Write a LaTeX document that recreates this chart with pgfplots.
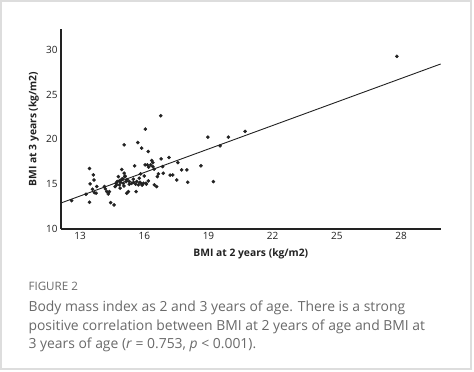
\documentclass[border=0pt]{standalone}
\usepackage{pgfplots}
\pgfplotsset{compat=1.18}
\usepackage{fontspec}
\setmainfont{Open Sans}
\definecolor{axgray}{HTML}{222222}
\definecolor{capgray}{HTML}{6A6A6A}
\definecolor{framegray}{HTML}{DDDDDD}
\begin{document}
\begin{tikzpicture}
\fill[white,use as bounding box] (0pt,0pt) rectangle (474pt,372pt);
\draw[framegray,line width=2.5pt] (1pt,3pt) -- (1pt,371pt) -- (471pt,371pt) -- (471pt,3pt) -- cycle;
\begin{axis}[
  at={(61pt,143pt)}, anchor=south west,
  scale only axis, width=379.7pt, height=200pt,
  xmin=12.11, xmax=29.85, ymin=10, ymax=32.3,
  axis lines=left, axis line style={-, line width=1.1pt, axgray},
  major tick length=0pt,
  xtick={13,16,19,22,25,28}, ytick={10,15,20,25,30},
  tick label style={font=\fontsize{10}{12}\selectfont, text=axgray},
  /pgf/number format/assume math mode=true,
  xlabel={BMI at 2 years (kg/m2)}, ylabel={BMI at 3 years (kg/m2)},
  label style={font=\bfseries\fontsize{10.3}{12}\selectfont, text=axgray},
  xlabel style={at={(axis description cs:0.5,-0.125)}, anchor=center},
  ylabel style={at={(axis description cs:-0.072,0.5)}, anchor=center},
  clip=false,
]
\addplot[only marks, mark=*, mark size=1.6pt, color=axgray] coordinates {
(12.61,13.16) (13.28,13.88) (13.44,12.98) (13.44,16.74) (13.47,15.03)
(13.62,16.03) (13.65,15.47) (13.58,14.43) (13.67,14.06) (13.78,14.73)
(13.75,13.99) (14.14,14.73) (14.18,14.47) (14.25,14.17) (14.32,13.91)
(14.37,14.17) (14.43,12.94) (14.59,12.68) (14.64,14.73) (14.68,15.10)
(14.74,15.29) (14.79,15.84) (14.84,14.92) (14.87,14.55) (14.95,16.64)
(14.95,15.55) (15.02,15.10) (15.06,19.39) (15.06,16.22) (15.10,15.84)
(15.15,15.29) (15.18,13.99) (15.26,14.17) (15.30,15.29) (15.41,15.10)
(15.49,15.55) (15.55,17.04) (15.62,14.17) (15.65,15.29) (15.70,19.64)
(15.72,14.92) (15.77,15.66) (15.83,16.15) (15.88,19.02) (15.88,15.03)
(15.96,15.10) (16.04,17.15) (16.05,21.14) (16.08,15.10) (16.15,17.15)
(16.19,18.64) (16.19,15.36) (16.30,17.15) (16.35,17.63) (16.40,16.96)
(16.46,16.67) (16.47,14.92) (16.58,14.73) (16.61,15.84) (16.66,16.15)
(16.77,22.63) (16.79,17.82) (16.86,16.96) (16.89,16.22) (17.16,17.97)
(17.21,16.00) (17.33,16.03) (17.52,15.47) (17.57,17.41) (17.75,16.59)
(17.99,16.59) (18.03,15.22) (18.65,17.04) (18.97,20.24) (19.23,15.29)
(19.54,19.27) (19.93,20.24) (20.71,20.88) (27.80,29.25)
(15.00,15.60) (14.90,15.20) (15.10,15.90) (14.85,15.40) (15.20,15.50)
(15.05,14.80) (14.70,14.90) (15.30,15.00) (15.50,15.20) (15.60,15.00)
(15.80,15.20) (16.00,15.90) (16.20,16.90) (16.40,17.40) (15.90,14.90)
(16.10,15.00)
};
\addplot[axgray, line width=0.9pt] coordinates {(12.11,12.9) (29.85,28.4)};
\end{axis}
\node[anchor=base west, text=capgray, font=\fontsize{11.6}{13}\selectfont] at (25pt,81pt) {FIGURE 2};
\node[anchor=base west, text=capgray, font=\fontsize{13.9}{16}\selectfont] at (25pt,60pt) {Body mass index as 2 and 3 years of age. There is a strong};
\node[anchor=base west, text=capgray, font=\fontsize{13.9}{16}\selectfont] at (25pt,41.5pt) {positive correlation between BMI at 2 years of age and BMI at};
\node[anchor=base west, text=capgray, font=\fontsize{13.9}{16}\selectfont] at (25pt,23pt) {3 years of age (\textit{r} = 0.753, \textit{p} < 0.001).};
\end{tikzpicture}
\end{document}
